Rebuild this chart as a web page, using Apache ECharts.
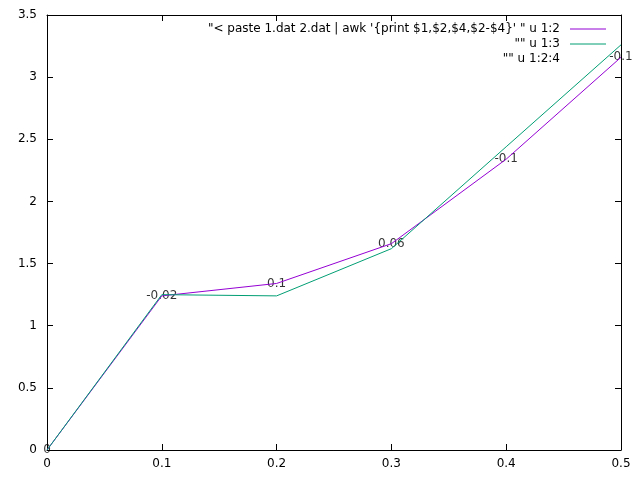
<!DOCTYPE html>
<html><head><meta charset="utf-8">
<script src="https://cdn.jsdelivr.net/npm/echarts@6/dist/echarts.min.js"></script>
<style>html,body{margin:0;padding:0;background:#fff}#c{width:640px;height:480px}</style>
</head><body><div id="c"></div>
<script>
const xs = [0, 0.1, 0.2, 0.3, 0.4, 0.5];
const s1 = [0, 1.24, 1.34, 1.66, 2.34, 3.16];
const s2 = [0, 1.25, 1.24, 1.62, 2.44, 3.26];
const labels = ['0', '-0.02', '0.1', '0.06', '-0.1', '-0.1'];
const names = ['"< paste 1.dat 2.dat | awk \'{print $1,$2,$4,$2-$4}\' " u 1:2', '"" u 1:3', '"" u 1:2:4'];
const colors = ['#9400d3', '#009e73', null];

const chart = echarts.init(document.getElementById('c'));
const font = {fontFamily: 'DejaVu Sans', fontSize: 12, color: '#000'};
const axisCommon = {
  axisLine: {show: true, onZero: false, lineStyle: {color: '#000'}},
  axisTick: {show: true, inside: true, length: 6, lineStyle: {color: '#000'}},
  splitLine: {show: false}
};
const legendEls = [];
names.forEach((n, i) => {
  const y = 29 + i * 15;
  legendEls.push({type: 'text', x: 560, y: y, style: {text: n, align: 'right', verticalAlign: 'middle',
    font: '12px "DejaVu Sans"', fill: '#000'}});
  if (colors[i]) legendEls.push({type: 'line', shape: {x1: 570, y1: y, x2: 606, y2: y},
    style: {stroke: colors[i], lineWidth: 1}});
});
chart.setOption({
  animation: false,
  grid: {left: 47, right: 19, top: 15, bottom: 30},
  graphic: legendEls,
  xAxis: [
    Object.assign({type: 'value', min: 0, max: 0.5, interval: 0.1,
      axisLabel: Object.assign({formatter: v => String(+v.toFixed(1)), margin: 8}, font)}, axisCommon),
    Object.assign({type: 'value', position: 'top', min: 0, max: 0.5, interval: 0.1, axisLabel: {show: false}}, axisCommon)
  ],
  yAxis: [
    Object.assign({type: 'value', min: 0, max: 3.5, interval: 0.5,
      axisLabel: Object.assign({formatter: v => String(+v.toFixed(1)), margin: 10}, font)}, axisCommon),
    Object.assign({type: 'value', position: 'right', min: 0, max: 3.5, interval: 0.5, axisLabel: {show: false}}, axisCommon)
  ],
  series: [
    {name: names[0], type: 'line', data: xs.map((x, i) => [x, s1[i]]), showSymbol: false, symbol: 'none',
      lineStyle: {color: colors[0], width: 1}},
    {name: names[1], type: 'line', data: xs.map((x, i) => [x, s2[i]]), showSymbol: false, symbol: 'none',
      lineStyle: {color: colors[1], width: 1}},
    {name: names[2], type: 'scatter', symbolSize: 1, itemStyle: {color: 'rgba(0,0,0,0)'},
      data: xs.map((x, i) => [x, s1[i]]),
      label: Object.assign({show: true, position: 'inside', formatter: p => labels[p.dataIndex]}, font)}
  ]
});
</script></body></html>
